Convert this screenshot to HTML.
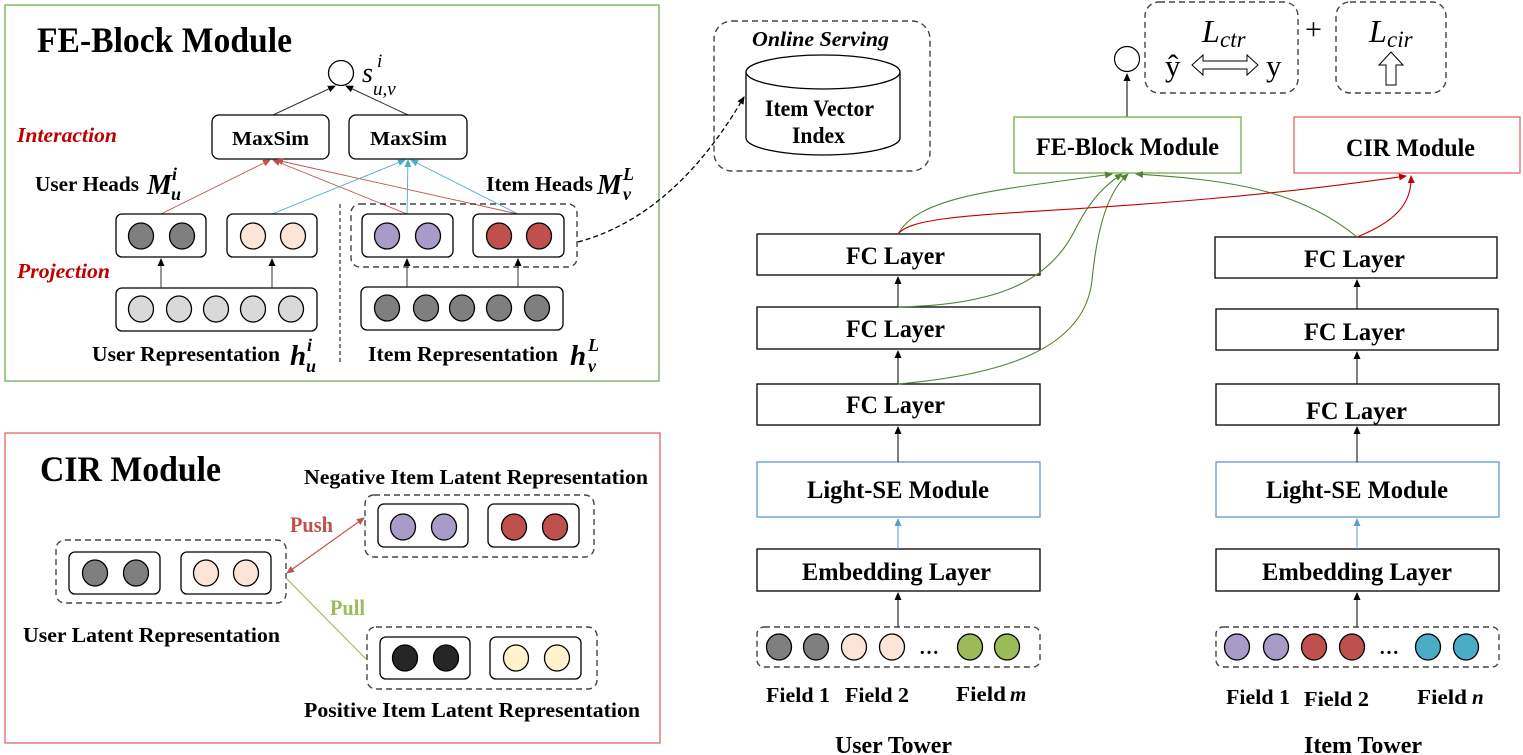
<!DOCTYPE html>
<html><head><meta charset="utf-8"><style>
html,body{margin:0;padding:0;background:#fff;}
svg{display:block;}
text{font-family:"Liberation Serif",serif;font-weight:bold;fill:#000;}
.it{font-style:italic;}
</style></head><body>
<svg width="1523" height="755" viewBox="0 0 1523 755" xmlns="http://www.w3.org/2000/svg">
<defs>
<marker id="ak" markerWidth="8" markerHeight="8" refX="7" refY="4" orient="auto" markerUnits="userSpaceOnUse"><path d="M0,0.5 L8,4 L0,7.5z" fill="#000"/></marker>
<marker id="ar" markerWidth="8" markerHeight="8" refX="7" refY="4" orient="auto" markerUnits="userSpaceOnUse"><path d="M0,0.5 L8,4 L0,7.5z" fill="#c0504d"/></marker>
<marker id="ardk" markerWidth="8" markerHeight="8" refX="7" refY="4" orient="auto" markerUnits="userSpaceOnUse"><path d="M0,0.5 L8,4 L0,7.5z" fill="#c00000"/></marker>
<marker id="arS" markerWidth="8" markerHeight="8" refX="1" refY="4" orient="auto" markerUnits="userSpaceOnUse"><path d="M8,0.5 L0,4 L8,7.5z" fill="#c0504d"/></marker>
<marker id="ab" markerWidth="8" markerHeight="8" refX="7" refY="4" orient="auto" markerUnits="userSpaceOnUse"><path d="M0,0.5 L8,4 L0,7.5z" fill="#4bacc6"/></marker>
<marker id="abl" markerWidth="8" markerHeight="8" refX="7" refY="4" orient="auto" markerUnits="userSpaceOnUse"><path d="M0,0.5 L8,4 L0,7.5z" fill="#5b9bd5"/></marker>
<marker id="ag" markerWidth="8" markerHeight="8" refX="7" refY="4" orient="auto" markerUnits="userSpaceOnUse"><path d="M0,0.5 L8,4 L0,7.5z" fill="#548235"/></marker>
</defs>

<!-- FE-Block panel -->
<rect x="5" y="5" width="654" height="376" fill="none" stroke="#70ad47" stroke-width="1.3"/>
<text x="37" y="52" font-size="36" textLength="255" lengthAdjust="spacingAndGlyphs">FE-Block Module</text>
<circle cx="341" cy="73" r="12.5" fill="#fff" stroke="#000" stroke-width="1.3"/>
<text x="362" y="82" font-size="28" class="it" style="font-weight:normal">s</text>
<text x="377" y="67" font-size="19" class="it" style="font-weight:normal">i</text>
<text x="373" y="95" font-size="19" class="it" style="font-weight:normal">u,v</text>
<line x1="273" y1="115" x2="335" y2="86" stroke="#333" stroke-width="1" marker-end="url(#ak)"/>
<line x1="408" y1="115" x2="346" y2="86" stroke="#333" stroke-width="1" marker-end="url(#ak)"/>
<rect x="212" y="115" width="117" height="44" rx="7" fill="#fff" stroke="#000" stroke-width="1.3"/>
<rect x="349" y="115" width="118" height="44" rx="7" fill="#fff" stroke="#000" stroke-width="1.3"/>
<text x="232" y="145" font-size="20" textLength="77" lengthAdjust="spacingAndGlyphs">MaxSim</text>
<text x="370" y="145" font-size="20" textLength="77" lengthAdjust="spacingAndGlyphs">MaxSim</text>
<text x="17" y="142" font-size="21" class="it" style="fill:#c00000" textLength="100" lengthAdjust="spacingAndGlyphs">Interaction</text>
<text x="17" y="278" font-size="21" class="it" style="fill:#c00000" textLength="93" lengthAdjust="spacingAndGlyphs">Projection</text>
<text x="35" y="191" font-size="21" textLength="104" lengthAdjust="spacingAndGlyphs">User Heads</text>
<text x="147" y="194" font-size="28" class="it">M</text><text x="172" y="180" font-size="18" class="it">i</text><text x="171" y="200" font-size="18" class="it">u</text>
<text x="486" y="191" font-size="21" textLength="107" lengthAdjust="spacingAndGlyphs">Item Heads</text>
<text x="597" y="194" font-size="28" class="it">M</text><text x="623" y="180" font-size="18" class="it">L</text><text x="623" y="200" font-size="18" class="it">v</text>
<g stroke-width="0.9" fill="none">
<line x1="161" y1="214" x2="270" y2="160" stroke="#c0504d" marker-end="url(#ar)"/>
<line x1="407" y1="214" x2="273" y2="160" stroke="#c0504d" marker-end="url(#ar)"/>
<line x1="518" y1="214" x2="276" y2="160" stroke="#c0504d" marker-end="url(#ar)"/>
<line x1="272" y1="214" x2="405" y2="160" stroke="#4bacc6" marker-end="url(#ab)"/>
<line x1="407" y1="214" x2="408" y2="160" stroke="#4bacc6" marker-end="url(#ab)"/>
<line x1="518" y1="214" x2="411" y2="160" stroke="#4bacc6" marker-end="url(#ab)"/>
</g>
<rect x="351" y="204" width="226" height="63" rx="9" fill="none" stroke="#444" stroke-width="1.4" stroke-dasharray="6,4"/>
<g stroke="#000" stroke-width="1.3">
<rect x="116" y="214" width="90" height="43" rx="6" fill="#fff"/>
<rect x="227" y="214" width="90" height="43" rx="6" fill="#fff"/>
<rect x="362" y="214" width="91" height="43" rx="6" fill="#fff"/>
<rect x="473" y="214" width="91" height="43" rx="6" fill="#fff"/>
<ellipse cx="141" cy="236" rx="12.5" ry="13" fill="#7f7f7f"/><ellipse cx="182" cy="236" rx="12.5" ry="13" fill="#7f7f7f"/>
<ellipse cx="253" cy="236" rx="12.5" ry="13" fill="#fce4d6"/><ellipse cx="293" cy="236" rx="12.5" ry="13" fill="#fce4d6"/>
<ellipse cx="387" cy="236" rx="12.5" ry="13" fill="#a99bc8"/><ellipse cx="428" cy="236" rx="12.5" ry="13" fill="#a99bc8"/>
<ellipse cx="499" cy="236" rx="12.5" ry="13" fill="#c0504d"/><ellipse cx="539" cy="236" rx="12.5" ry="13" fill="#c0504d"/>
<rect x="116" y="288" width="201" height="43" rx="6" fill="#fff"/>
<rect x="361" y="287" width="202" height="43" rx="6" fill="#fff"/>
<ellipse cx="141" cy="309" rx="12.5" ry="13" fill="#d9d9d9"/><ellipse cx="179" cy="309" rx="12.5" ry="13" fill="#d9d9d9"/><ellipse cx="216" cy="309" rx="12.5" ry="13" fill="#d9d9d9"/><ellipse cx="253" cy="309" rx="12.5" ry="13" fill="#d9d9d9"/><ellipse cx="291" cy="309" rx="12.5" ry="13" fill="#d9d9d9"/>
<ellipse cx="387" cy="308" rx="12.5" ry="13" fill="#7f7f7f"/><ellipse cx="426" cy="308" rx="12.5" ry="13" fill="#7f7f7f"/><ellipse cx="462" cy="308" rx="12.5" ry="13" fill="#7f7f7f"/><ellipse cx="499" cy="308" rx="12.5" ry="13" fill="#7f7f7f"/><ellipse cx="537" cy="308" rx="12.5" ry="13" fill="#7f7f7f"/>
</g>
<g stroke="#333" stroke-width="1">
<line x1="161" y1="288" x2="161" y2="259" marker-end="url(#ak)"/>
<line x1="272" y1="288" x2="272" y2="259" marker-end="url(#ak)"/>
<line x1="407" y1="287" x2="407" y2="259" marker-end="url(#ak)"/>
<line x1="518" y1="287" x2="518" y2="259" marker-end="url(#ak)"/>
</g>
<line x1="340" y1="204" x2="340" y2="365" stroke="#000" stroke-width="1" stroke-dasharray="4,3"/>
<text x="92" y="361" font-size="21" textLength="188" lengthAdjust="spacingAndGlyphs">User Representation</text>
<text x="290" y="365" font-size="29" class="it">h</text><text x="307" y="351" font-size="18" class="it">i</text><text x="306" y="372" font-size="18" class="it">u</text>
<text x="368" y="361" font-size="21" textLength="190" lengthAdjust="spacingAndGlyphs">Item Representation</text>
<text x="570" y="365" font-size="29" class="it">h</text><text x="588" y="351" font-size="18" class="it">L</text><text x="588" y="372" font-size="18" class="it">v</text>
<path d="M578,242 C630,228 690,190 744,97" fill="none" stroke="#000" stroke-width="1.3" stroke-dasharray="5,3" marker-end="url(#ak)"/>

<!-- Online Serving -->
<rect x="714" y="21" width="216" height="150" rx="18" fill="none" stroke="#444" stroke-width="1.4" stroke-dasharray="6,4"/>
<text x="752" y="46" font-size="21" class="it" textLength="137" lengthAdjust="spacingAndGlyphs">Online Serving</text>
<path d="M746,72 L746,138 A77,17 0 0 0 900,138 L900,72" fill="#fff" stroke="#000" stroke-width="1.3"/>
<ellipse cx="823" cy="72" rx="77" ry="17" fill="#fff" stroke="#000" stroke-width="1.3"/>
<text x="765" y="116" font-size="23" textLength="109" lengthAdjust="spacingAndGlyphs">Item Vector</text>
<text x="792" y="143" font-size="23" textLength="53" lengthAdjust="spacingAndGlyphs">Index</text>

<!-- CIR panel -->
<rect x="5" y="433" width="655" height="310" fill="none" stroke="#e06666" stroke-width="1.3"/>
<text x="40" y="481" font-size="36" textLength="181" lengthAdjust="spacingAndGlyphs">CIR Module</text>
<text x="304" y="484" font-size="21" textLength="344" lengthAdjust="spacingAndGlyphs">Negative Item Latent Representation</text>
<text x="304" y="717" font-size="21" textLength="336" lengthAdjust="spacingAndGlyphs">Positive Item Latent Representation</text>
<text x="23" y="642" font-size="21" textLength="257" lengthAdjust="spacingAndGlyphs">User Latent Representation</text>
<g fill="none" stroke="#444" stroke-width="1.4" stroke-dasharray="6,4">
<rect x="365" y="495" width="229" height="62" rx="9"/>
<rect x="56" y="540" width="230" height="63" rx="9"/>
<rect x="367" y="627" width="230" height="62" rx="9"/>
</g>
<g stroke="#000" stroke-width="1.3">
<rect x="378" y="504" width="90" height="43" rx="6" fill="#fff"/><rect x="488" y="504" width="91" height="43" rx="6" fill="#fff"/>
<ellipse cx="403" cy="527" rx="12.5" ry="13" fill="#a99bc8"/><ellipse cx="444" cy="527" rx="12.5" ry="13" fill="#a99bc8"/>
<ellipse cx="514" cy="527" rx="12.5" ry="13" fill="#c0504d"/><ellipse cx="555" cy="527" rx="12.5" ry="13" fill="#c0504d"/>
<rect x="69" y="552" width="91" height="42" rx="6" fill="#fff"/><rect x="181" y="552" width="90" height="42" rx="6" fill="#fff"/>
<ellipse cx="95" cy="573" rx="12.5" ry="13" fill="#7f7f7f"/><ellipse cx="136" cy="573" rx="12.5" ry="13" fill="#7f7f7f"/>
<ellipse cx="206" cy="573" rx="12.5" ry="13" fill="#fce4d6"/><ellipse cx="246" cy="573" rx="12.5" ry="13" fill="#fce4d6"/>
<rect x="380" y="637" width="90" height="42" rx="6" fill="#fff"/><rect x="490" y="637" width="91" height="42" rx="6" fill="#fff"/>
<ellipse cx="405" cy="658" rx="12.5" ry="13" fill="#262626"/><ellipse cx="446" cy="658" rx="12.5" ry="13" fill="#262626"/>
<ellipse cx="516" cy="658" rx="12.5" ry="13" fill="#fff2cc"/><ellipse cx="557" cy="658" rx="12.5" ry="13" fill="#fff2cc"/>
</g>
<line x1="287" y1="573" x2="364" y2="518" stroke="#c0504d" stroke-width="1.1" marker-start="url(#arS)" marker-end="url(#ar)"/>
<line x1="286" y1="578" x2="366" y2="659" stroke="#9bbb59" stroke-width="1.1"/>
<text x="290" y="532" font-size="22" style="fill:#c0504d" textLength="43" lengthAdjust="spacingAndGlyphs">Push</text>
<text x="330" y="615" font-size="22" style="fill:#9bbb59" textLength="35" lengthAdjust="spacingAndGlyphs">Pull</text>

<!-- Loss boxes -->
<rect x="1145" y="2" width="153" height="91" rx="14" fill="none" stroke="#444" stroke-width="1.4" stroke-dasharray="6,4"/>
<rect x="1336" y="2" width="110" height="91" rx="14" fill="none" stroke="#444" stroke-width="1.4" stroke-dasharray="6,4"/>
<text x="1202" y="42" font-size="32" class="it" style="font-weight:normal">L</text><text x="1220" y="47" font-size="23" class="it" style="font-weight:normal">ctr</text>
<text x="1369" y="42" font-size="32" class="it" style="font-weight:normal">L</text><text x="1387" y="47" font-size="23" class="it" style="font-weight:normal">cir</text>
<text x="1165" y="76" font-size="31" style="font-weight:normal">ŷ</text>
<text x="1266" y="76" font-size="31" style="font-weight:normal">y</text>
<text x="1305" y="39" font-size="30" style="font-weight:normal">+</text>
<path d="M1192,65 L1203,55 L1203,61 L1247,61 L1247,55 L1258,65 L1247,75 L1247,69 L1203,69 L1203,75 Z" fill="#fff" stroke="#000" stroke-width="1"/>
<path d="M1391,52 L1403,65 L1396,65 L1396,85 L1386,85 L1386,65 L1379,65 Z" fill="#fff" stroke="#000" stroke-width="1"/>
<circle cx="1127" cy="59" r="12.5" fill="#fff" stroke="#000" stroke-width="1.2"/>
<line x1="1127" y1="117" x2="1127" y2="74" stroke="#000" stroke-width="1" marker-end="url(#ak)"/>

<!-- Modules -->
<rect x="1014" y="117" width="227" height="56" fill="#fff" stroke="#70ad47" stroke-width="1.3"/>
<text x="1036" y="155" font-size="25" textLength="183" lengthAdjust="spacingAndGlyphs">FE-Block Module</text>
<rect x="1294" y="117" width="226" height="56" fill="#fff" stroke="#e06666" stroke-width="1.3"/>
<text x="1346" y="156" font-size="25" textLength="129" lengthAdjust="spacingAndGlyphs">CIR Module</text>

<!-- Towers -->
<g fill="#fff" stroke="#000" stroke-width="1.3">
<rect x="757" y="234" width="283" height="41"/>
<rect x="757" y="307" width="283" height="42"/>
<rect x="757" y="384" width="283" height="41"/>
<rect x="757" y="549" width="283" height="42"/>
<rect x="1215" y="237" width="282" height="41"/>
<rect x="1216" y="309" width="282" height="41"/>
<rect x="1216" y="384" width="283" height="41"/>
<rect x="1216" y="549" width="283" height="42"/>
</g>
<rect x="757" y="462" width="283" height="55" fill="#fff" stroke="#5b9bd5" stroke-width="1.3"/>
<rect x="1216" y="462" width="283" height="55" fill="#fff" stroke="#5b9bd5" stroke-width="1.3"/>
<g font-size="25">
<text x="846" y="264" textLength="99" lengthAdjust="spacingAndGlyphs">FC Layer</text>
<text x="846" y="337" textLength="99" lengthAdjust="spacingAndGlyphs">FC Layer</text>
<text x="846" y="413" textLength="99" lengthAdjust="spacingAndGlyphs">FC Layer</text>
<text x="1304" y="267" textLength="101" lengthAdjust="spacingAndGlyphs">FC Layer</text>
<text x="1304" y="340" textLength="101" lengthAdjust="spacingAndGlyphs">FC Layer</text>
<text x="1306" y="419" textLength="101" lengthAdjust="spacingAndGlyphs">FC Layer</text>
<text x="807" y="498" textLength="182" lengthAdjust="spacingAndGlyphs">Light-SE Module</text>
<text x="1266" y="498" textLength="182" lengthAdjust="spacingAndGlyphs">Light-SE Module</text>
<text x="802" y="580" textLength="189" lengthAdjust="spacingAndGlyphs">Embedding Layer</text>
<text x="1262" y="580" textLength="190" lengthAdjust="spacingAndGlyphs">Embedding Layer</text>
</g>
<g stroke="#000" stroke-width="1">
<line x1="898" y1="307" x2="898" y2="277" marker-end="url(#ak)"/>
<line x1="898" y1="384" x2="898" y2="351" marker-end="url(#ak)"/>
<line x1="898" y1="462" x2="898" y2="427" marker-end="url(#ak)"/>
<line x1="898" y1="627" x2="898" y2="593" marker-end="url(#ak)"/>
<line x1="1357" y1="309" x2="1357" y2="280" marker-end="url(#ak)"/>
<line x1="1357" y1="384" x2="1357" y2="352" marker-end="url(#ak)"/>
<line x1="1357" y1="462" x2="1357" y2="427" marker-end="url(#ak)"/>
<line x1="1357" y1="627" x2="1357" y2="593" marker-end="url(#ak)"/>
</g>
<line x1="898" y1="549" x2="898" y2="519" stroke="#5b9bd5" stroke-width="1" marker-end="url(#abl)"/>
<line x1="1357" y1="549" x2="1357" y2="519" stroke="#5b9bd5" stroke-width="1" marker-end="url(#abl)"/>
<g fill="none" stroke="#548235" stroke-width="1.1">
<path d="M898,234 C920,195 1000,190 1112,174" marker-end="url(#ag)"/>
<path d="M898,307 C1000,305 1050,280 1075,230 C1090,200 1105,185 1122,174" marker-end="url(#ag)"/>
<path d="M898,384 C1000,375 1085,350 1092,280 C1098,220 1110,190 1128,174" marker-end="url(#ag)"/>
<path d="M1357,237 C1300,190 1230,180 1136,174" marker-end="url(#ag)"/>
</g>
<g fill="none" stroke="#c00000" stroke-width="1.1">
<path d="M898,234 C920,205 1100,220 1406,176" marker-end="url(#ardk)"/>
<path d="M1357,237 C1400,220 1412,200 1411,176" marker-end="url(#ardk)"/>
</g>
<rect x="757" y="627" width="283" height="40" rx="7" fill="none" stroke="#444" stroke-width="1.4" stroke-dasharray="6,4"/>
<rect x="1216" y="627" width="283" height="40" rx="7" fill="none" stroke="#444" stroke-width="1.4" stroke-dasharray="6,4"/>
<g stroke="#000" stroke-width="1.3">
<ellipse cx="779" cy="647" rx="12.5" ry="13" fill="#7f7f7f"/><ellipse cx="816" cy="647" rx="12.5" ry="13" fill="#7f7f7f"/>
<ellipse cx="854" cy="647" rx="12.5" ry="13" fill="#fce4d6"/><ellipse cx="892" cy="647" rx="12.5" ry="13" fill="#fce4d6"/>
<ellipse cx="970" cy="647" rx="12.5" ry="13" fill="#9bbb59"/><ellipse cx="1007" cy="647" rx="12.5" ry="13" fill="#9bbb59"/>
<ellipse cx="1237" cy="647" rx="12.5" ry="13" fill="#a99bc8"/><ellipse cx="1276" cy="647" rx="12.5" ry="13" fill="#a99bc8"/>
<ellipse cx="1314" cy="647" rx="12.5" ry="13" fill="#c0504d"/><ellipse cx="1352" cy="647" rx="12.5" ry="13" fill="#c0504d"/>
<ellipse cx="1428" cy="647" rx="12.5" ry="13" fill="#4bacc6"/><ellipse cx="1466" cy="647" rx="12.5" ry="13" fill="#4bacc6"/>
</g>
<text x="919" y="654" font-size="20">…</text>
<text x="1379" y="654" font-size="20">…</text>
<g font-size="21">
<text x="766" y="702" textLength="64" lengthAdjust="spacingAndGlyphs">Field 1</text>
<text x="845" y="702" textLength="64" lengthAdjust="spacingAndGlyphs">Field 2</text>
<text x="956" y="701" textLength="50" lengthAdjust="spacingAndGlyphs">Field</text><text x="1010" y="701" class="it">m</text>
<text x="1226" y="704" textLength="64" lengthAdjust="spacingAndGlyphs">Field 1</text>
<text x="1304" y="706" textLength="65" lengthAdjust="spacingAndGlyphs">Field 2</text>
<text x="1417" y="704" textLength="50" lengthAdjust="spacingAndGlyphs">Field</text><text x="1472" y="704" class="it">n</text>
</g>
<text x="835" y="753" font-size="24" textLength="117" lengthAdjust="spacingAndGlyphs">User Tower</text>
<text x="1304" y="753" font-size="24" textLength="118" lengthAdjust="spacingAndGlyphs">Item Tower</text>
</svg>
</body></html>
